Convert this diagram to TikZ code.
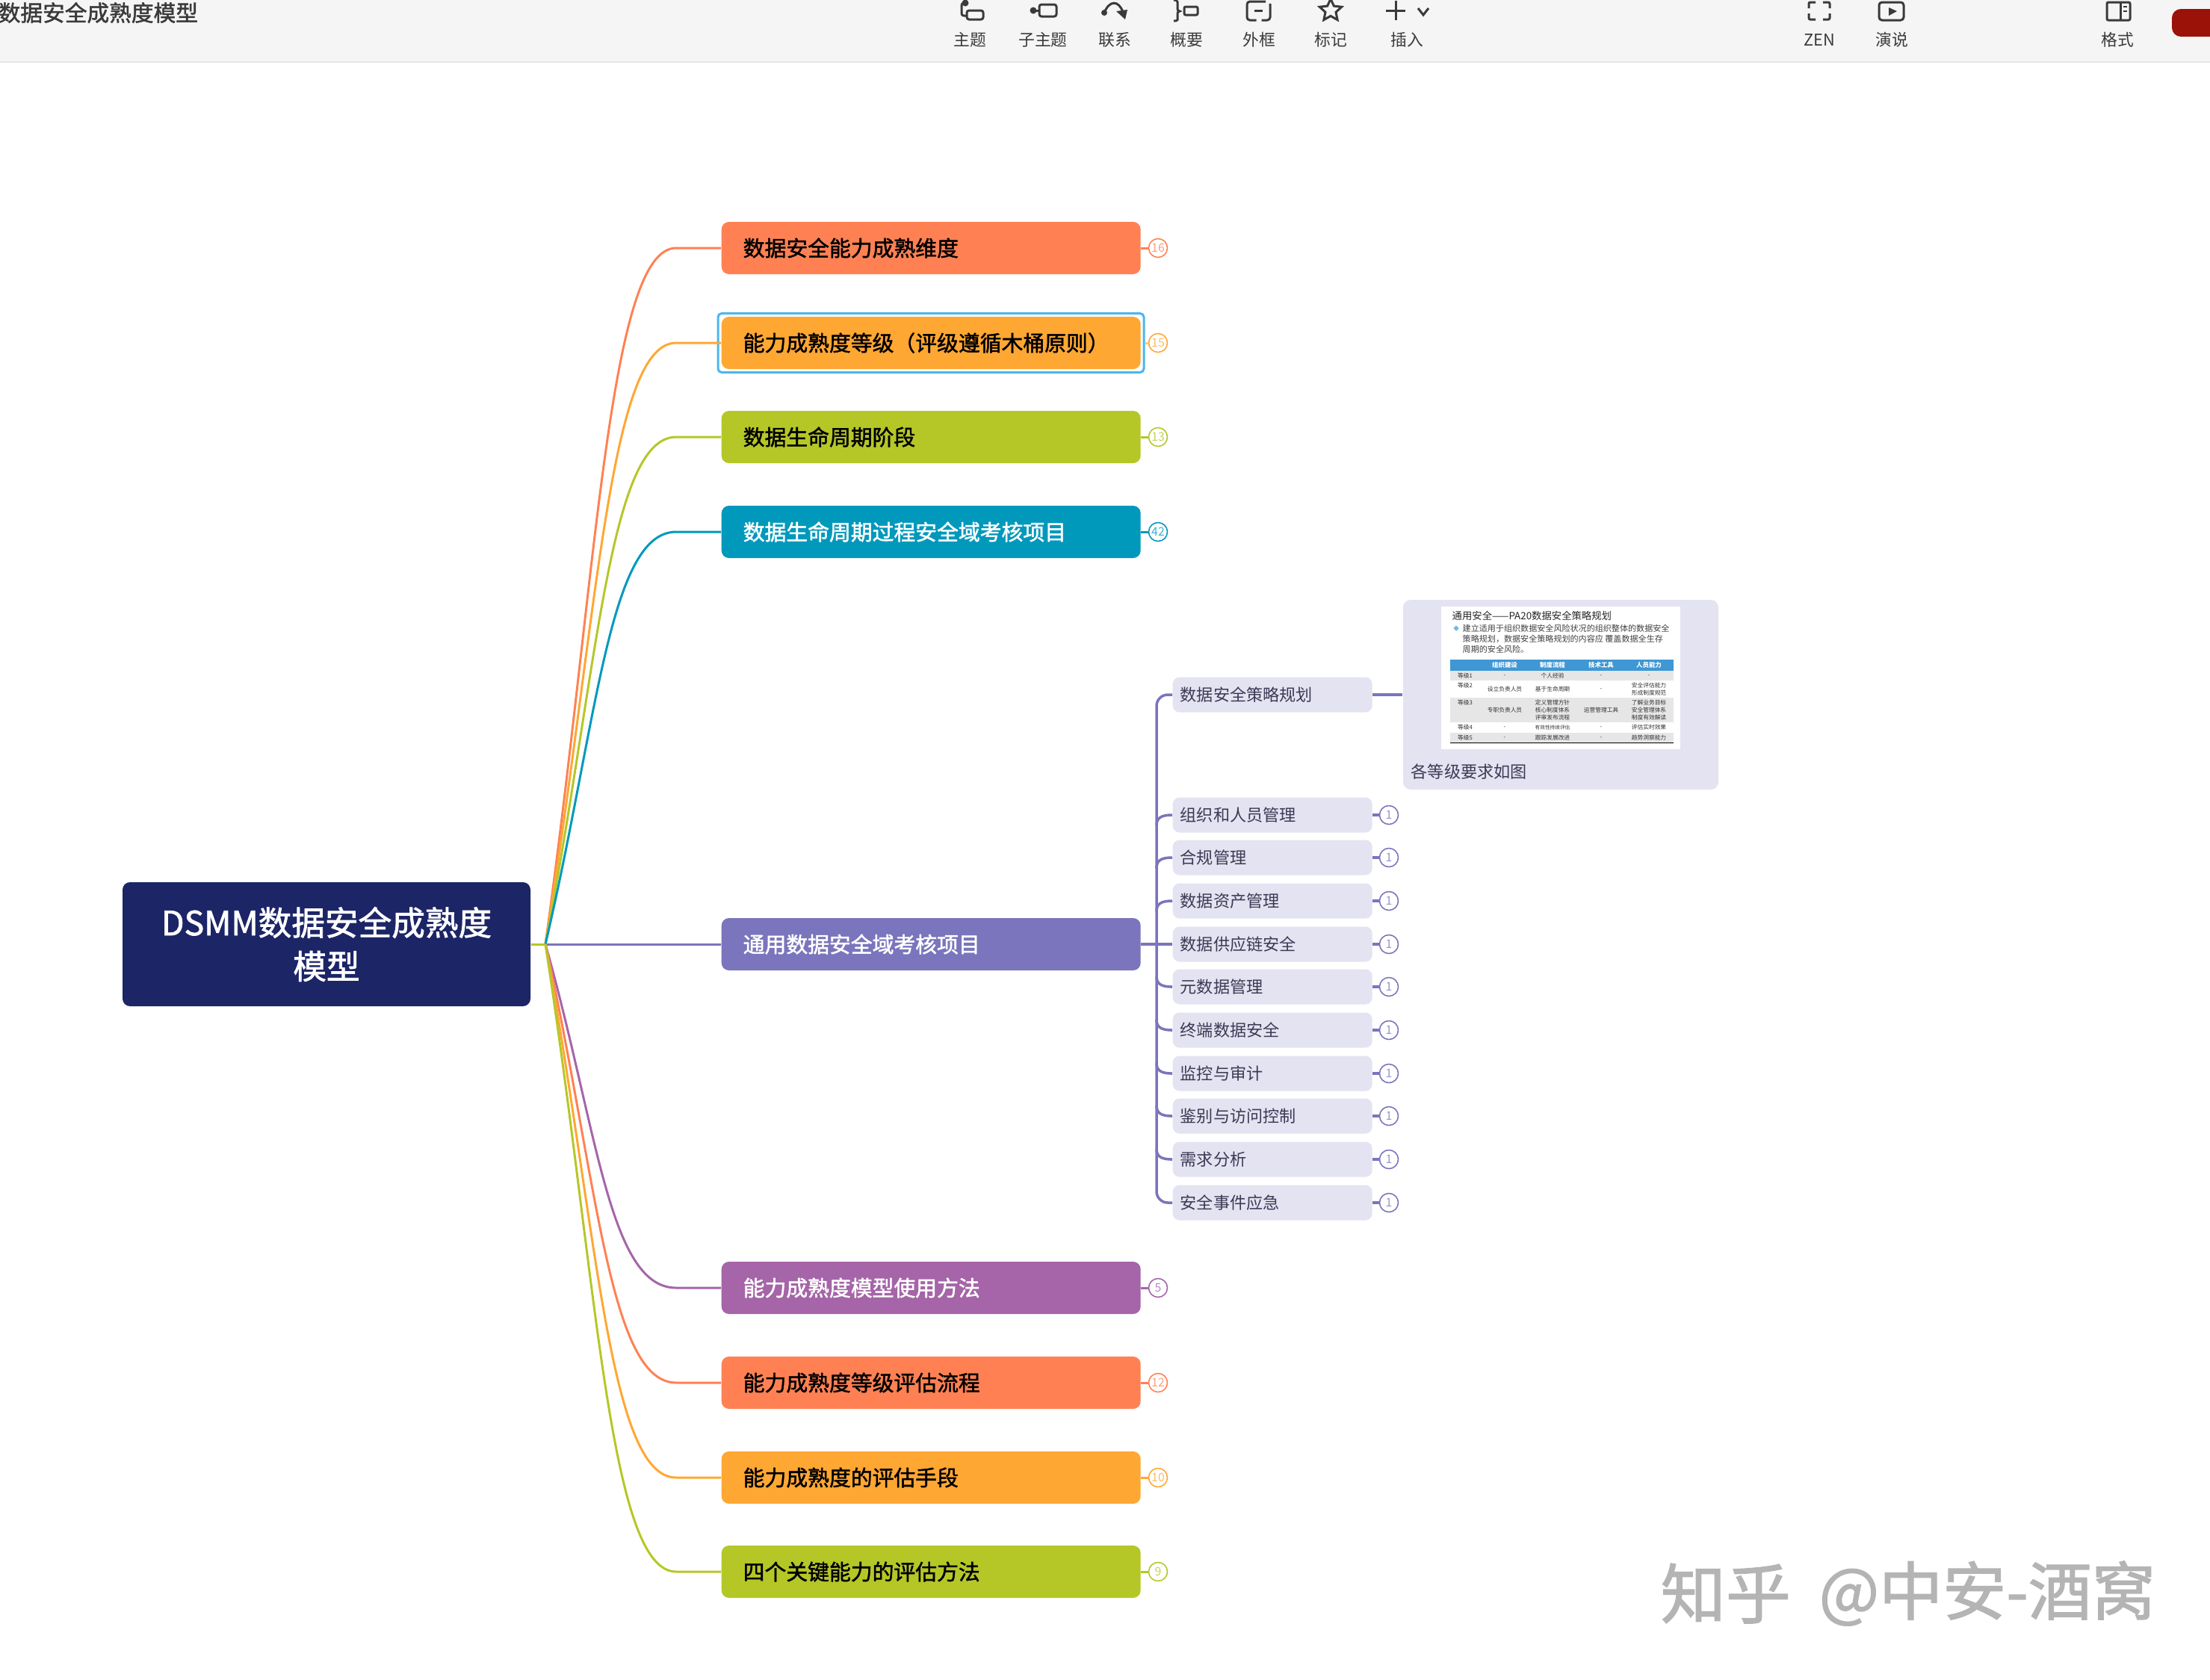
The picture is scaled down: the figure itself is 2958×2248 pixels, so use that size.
\documentclass[tikz,border=0pt]{standalone}
\usepackage{fontspec}
\setmainfont{Noto Sans CJK SC}
\newfontfamily\cjkmid[FakeBold=1.6]{Noto Sans CJK SC}
\usetikzlibrary{shapes.geometric}

\definecolor{rootblue}{HTML}{1C2566}
\definecolor{coral}{HTML}{FF8153}
\definecolor{amber}{HTML}{FFA733}
\definecolor{lime}{HTML}{B5C727}
\definecolor{teal2}{HTML}{0099BC}
\definecolor{slate}{HTML}{7A75BC}
\definecolor{violet2}{HTML}{A565A8}
\definecolor{subfill}{HTML}{E4E3F1}
\definecolor{subtext}{HTML}{3B3A55}
\definecolor{selblue}{HTML}{4DB6EC}
\definecolor{barfill}{HTML}{F5F5F5}
\definecolor{barline}{HTML}{E6E6E6}
\definecolor{icongray}{HTML}{3A3A3A}
\definecolor{tablehead}{HTML}{3F97D3}
\definecolor{tablerow}{HTML}{E6E6E6}
\definecolor{tabletext}{HTML}{333333}
\definecolor{markgray}{HTML}{B4B4B4}
\definecolor{closered}{HTML}{9B1208}

\begin{document}
\begin{tikzpicture}[x=0.1mm,y=-0.1mm]
    \tikzset{
      rootbox/.style = {fill=rootblue, text=white, rounded corners=1mm, inner sep=0, align=center,
                        minimum width=54.6mm, minimum height=16.6mm,
                        font=\cjkmid\fontsize{12.7}{16.6}\selectfont},
      branchbox/.style = {fill=#1, rounded corners=1mm, anchor=west, inner xsep=2.9mm, inner ysep=0,
                        text width=50.3mm, align=left, minimum height=7mm,
                        font=\cjkmid\fontsize{8.2}{10}\selectfont},
      subbox/.style = {fill=subfill, text=subtext, rounded corners=0.9mm, anchor=west, inner xsep=1mm,
                        inner ysep=0, text width=24.7mm, align=left, minimum height=4.7mm,
                        font=\fontsize{6.3}{8}\selectfont},
      countdot/.style = {draw=#1, fill=white, text=#1!75, circle, inner sep=0, minimum size=2.5mm,
                        line width=0.45pt, font=\fontsize{4.5}{5}\selectfont},
      wire/.style = {draw=#1, line width=0.85pt},
      barlabel/.style = {text=icongray, inner sep=0, font=\fontsize{6.2}{8}\selectfont},
      iconline/.style = {draw=icongray, line width=0.85pt},
      cell/.style = {text=tabletext, inner sep=0, align=center, font=\fontsize{2.2}{2.85}\selectfont},
      headcell/.style = {text=white, inner sep=0, font=\bfseries\fontsize{2.4}{3}\selectfont}
    }

    \useasboundingbox (0,0) rectangle (2958,2248);

    % tool bar
    \fill[barfill] (0,0) rectangle (2958,82);
    \fill[barline] (0,82) rectangle (2958,84);
    \node[anchor=west, inner sep=0, text=icongray, font=\cjkmid\fontsize{8.45}{10}\selectfont] (title) at (-3,17) {数据安全成熟度模型};
    \node[barlabel] (l1) at (1298,53) {主题};
    \node[barlabel] (l2) at (1396,53) {子主题};
    \node[barlabel] (l3) at (1492,53) {联系};
    \node[barlabel] (l4) at (1588,53) {概要};
    \node[barlabel] (l5) at (1685,53) {外框};
    \node[barlabel] (l6) at (1781,53) {标记};
    \node[barlabel] (l7) at (1883,53) {插入};
    \node[barlabel] (l8) at (2435,53) {ZEN};
    \node[barlabel] (l9) at (2532,53) {演说};
    \node[barlabel] (l10) at (2834,53) {格式};
    \fill[closered, rounded corners=1.2mm] (2907,12) rectangle (3000,49);

    % tool bar icons
    \fill[icongray] (1292,4) circle (0.45mm);
    \draw[iconline, rounded corners=0.3mm] (1292,4) -- (1287,4) -- (1287,21) -- (1294,21);
    \draw[iconline, rounded corners=0.3mm] (1294,14) rectangle (1316,26);
    \fill[icongray] (1383,14) circle (0.45mm);
    \draw[iconline] (1383,14) -- (1391,14);
    \draw[iconline, rounded corners=0.3mm] (1391,6) rectangle (1414,22);
    \fill[icongray] (1478,17) circle (0.4mm);
    \draw[iconline] (1478,17) .. controls (1485,0) and (1497,0) .. (1503,16);
    \fill[icongray] (1494,15) -- (1509,13) -- (1506,26) -- cycle;
    \draw[iconline] (1571,0) .. controls (1578,0) and (1576,4) .. (1576,10) .. controls (1576,14) and (1577,15) .. (1579,15) .. controls (1577,15) and (1576,16) .. (1576,20) .. controls (1576,26) and (1578,28) .. (1571,28);
    \draw[iconline, rounded corners=0.2mm] (1585,9) rectangle (1603,20);
    \draw[iconline, dashed, dash pattern=on 9pt off 2pt, rounded corners=0.4mm] (1669,2) rectangle (1700,27);
    \draw[iconline] (1679,14) -- (1690,14);
    \node[star, star points=5, star point ratio=2.1, draw=icongray, line width=0.85pt, inner sep=0, minimum size=3.1mm] (fav) at (1781,14) {};
    \draw[iconline] (1868,1) -- (1868,27);
    \draw[iconline] (1855,14) -- (1881,14);
    \draw[iconline] (1898,11) -- (1905,20) -- (1912,11);
    \draw[iconline, rounded corners=0.2mm] (2430,3) -- (2421,3) -- (2421,11);
    \draw[iconline, rounded corners=0.2mm] (2440,3) -- (2449,3) -- (2449,11);
    \draw[iconline, rounded corners=0.2mm] (2421,18) -- (2421,26) -- (2430,26);
    \draw[iconline, rounded corners=0.2mm] (2449,18) -- (2449,26) -- (2440,26);
    \draw[iconline, rounded corners=0.4mm] (2515,3) rectangle (2548,27);
    \fill[icongray] (2528,10) -- (2539,15) -- (2528,21) -- cycle;
    \draw[iconline, rounded corners=0.2mm] (2820,3) rectangle (2851,27);
    \draw[iconline] (2838,3) -- (2838,27);
    \draw[icongray, line width=0.5pt] (2842,9) -- (2847,9);
    \draw[icongray, line width=0.5pt] (2842,15) -- (2847,15);

    % root and main branches
    \node[rootbox, align=center] (root) at (437,1264) {DSMM数据安全成熟度\\模型};
    \coordinate (j) at (730,1264);

    \node[draw=selblue, line width=0.85pt, rounded corners=0.5mm, minimum width=57mm, minimum height=7.9mm, inner sep=0] (sel) at (1246,459) {};

    \node[branchbox=coral] (b1) at (965,332) {数据安全能力成熟维度};
    \node[branchbox=amber] (b2) at (965,459) {能力成熟度等级（评级遵循木桶原则）};
    \node[branchbox=lime] (b3) at (965,585) {数据生命周期阶段};
    \node[branchbox=teal2, text=white] (b4) at (965,712) {数据生命周期过程安全域考核项目};
    \node[branchbox=slate, text=white] (b5) at (965,1264) {通用数据安全域考核项目};
    \node[branchbox=violet2, text=white] (b6) at (965,1724) {能力成熟度模型使用方法};
    \node[branchbox=coral] (b7) at (965,1851) {能力成熟度等级评估流程};
    \node[branchbox=amber] (b8) at (965,1978) {能力成熟度的评估手段};
    \node[branchbox=lime] (b9) at (965,2104) {四个关键能力的评估方法};

    \draw[wire=coral] (j) .. controls (800,760) and (815,332) .. (905,332) -- (b1.west);
    \draw[wire=amber] (j) .. controls (800,828) and (815,459) .. (905,459) -- (b2.west);
    \draw[wire=lime] (j) .. controls (800,897) and (815,585) .. (905,585) -- (b3.west);
    \draw[wire=teal2] (j) .. controls (800,965) and (815,712) .. (905,712) -- (b4.west);
    \draw[wire=slate] (j) -- (b5.west);
    \draw[wire=violet2] (j) .. controls (800,1511) and (815,1724) .. (905,1724) -- (b6.west);
    \draw[wire=coral] (j) .. controls (800,1580) and (815,1851) .. (905,1851) -- (b7.west);
    \draw[wire=amber] (j) .. controls (800,1649) and (815,1978) .. (905,1978) -- (b8.west);
    \draw[wire=lime] (j) .. controls (800,1717) and (815,2104) .. (905,2104) -- (b9.west);
    \draw[wire=lime] (root.east) -- (j);

    % branch counters
    \node[countdot=coral] (n1) at (1550,332) {16};
    \node[countdot=amber] (n2) at (1550,459) {15};
    \node[countdot=lime] (n3) at (1550,585) {13};
    \node[countdot=teal2] (n4) at (1550,712) {42};
    \node[countdot=violet2] (n6) at (1550,1724) {5};
    \node[countdot=coral] (n7) at (1550,1851) {12};
    \node[countdot=amber] (n8) at (1550,1978) {10};
    \node[countdot=lime] (n9) at (1550,2104) {9};
    \draw[wire=coral] (b1.east) -- (n1.west);
    \draw[wire=amber!60] (sel.east) -- (n2.west);
    \draw[wire=lime] (b3.east) -- (n3.west);
    \draw[wire=teal2] (b4.east) -- (n4.west);
    \draw[wire=violet2] (b6.east) -- (n6.west);
    \draw[wire=coral] (b7.east) -- (n7.west);
    \draw[wire=amber] (b8.east) -- (n8.west);
    \draw[wire=lime] (b9.east) -- (n9.west);

    % general domain items
    \node[subbox] (s1) at (1569,930) {数据安全策略规划};
    \node[subbox] (s2) at (1569,1091) {组织和人员管理};
    \node[subbox] (s3) at (1569,1148) {合规管理};
    \node[subbox] (s4) at (1569,1206) {数据资产管理};
    \node[subbox] (s5) at (1569,1264) {数据供应链安全};
    \node[subbox] (s6) at (1569,1321) {元数据管理};
    \node[subbox] (s7) at (1569,1379) {终端数据安全};
    \node[subbox] (s8) at (1569,1437) {监控与审计};
    \node[subbox] (s9) at (1569,1494) {鉴别与访问控制};
    \node[subbox] (s10) at (1569,1552) {需求分析};
    \node[subbox] (s11) at (1569,1610) {安全事件应急};

    \draw[wire=slate, line width=1pt] (b5.east) -- (s5.west);
    \draw[wire=slate, line width=1pt, rounded corners=1.5mm] (s1.west) -- (1548,930) -- (1548,1610) -- (s11.west);
    \draw[wire=slate, line width=1pt] (1548,1105) .. controls (1548,1095) and (1554,1091) .. (s2.west);
    \draw[wire=slate, line width=1pt] (1548,1162) .. controls (1548,1152) and (1554,1148) .. (s3.west);
    \draw[wire=slate, line width=1pt] (1548,1220) .. controls (1548,1210) and (1554,1206) .. (s4.west);
    \draw[wire=slate, line width=1pt] (1548,1307) .. controls (1548,1317) and (1554,1321) .. (s6.west);
    \draw[wire=slate, line width=1pt] (1548,1365) .. controls (1548,1375) and (1554,1379) .. (s7.west);
    \draw[wire=slate, line width=1pt] (1548,1423) .. controls (1548,1433) and (1554,1437) .. (s8.west);
    \draw[wire=slate, line width=1pt] (1548,1480) .. controls (1548,1490) and (1554,1494) .. (s9.west);
    \draw[wire=slate, line width=1pt] (1548,1538) .. controls (1548,1548) and (1554,1552) .. (s10.west);

    \node[countdot=slate] (m2) at (1859,1091) {1};
    \node[countdot=slate] (m3) at (1859,1148) {1};
    \node[countdot=slate] (m4) at (1859,1206) {1};
    \node[countdot=slate] (m5) at (1859,1264) {1};
    \node[countdot=slate] (m6) at (1859,1321) {1};
    \node[countdot=slate] (m7) at (1859,1379) {1};
    \node[countdot=slate] (m8) at (1859,1437) {1};
    \node[countdot=slate] (m9) at (1859,1494) {1};
    \node[countdot=slate] (m10) at (1859,1552) {1};
    \node[countdot=slate] (m11) at (1859,1610) {1};
    \draw[wire=slate, line width=1pt] (s2.east) -- (m2.west);
    \draw[wire=slate, line width=1pt] (s3.east) -- (m3.west);
    \draw[wire=slate, line width=1pt] (s4.east) -- (m4.west);
    \draw[wire=slate, line width=1pt] (s5.east) -- (m5.west);
    \draw[wire=slate, line width=1pt] (s6.east) -- (m6.west);
    \draw[wire=slate, line width=1pt] (s7.east) -- (m7.west);
    \draw[wire=slate, line width=1pt] (s8.east) -- (m8.west);
    \draw[wire=slate, line width=1pt] (s9.east) -- (m9.west);
    \draw[wire=slate, line width=1pt] (s10.east) -- (m10.west);
    \draw[wire=slate, line width=1pt] (s11.east) -- (m11.west);

    % note card with the slide
    \node[fill=subfill, rounded corners=1mm, minimum width=42.2mm, minimum height=25.4mm, inner sep=0] (card) at (2089,930) {};
    \draw[wire=slate, line width=1pt] (s1.east) -- (card.west |- s1.east);
    \node[fill=white, minimum width=32mm, minimum height=19.1mm, inner sep=0] (slide) at (2089,907.5) {};
    \node[anchor=west, inner sep=0, text=subtext, font=\fontsize{6.3}{8}\selectfont] (cap) at (1888,1033) {各等级要求如图};

    \node[anchor=west, inner sep=0, text=black!85, font=\fontsize{3.8}{4}\selectfont] (st) at (1943,824) {通用安全——PA20数据安全策略规划};
    \node[diamond, fill=tablehead!70, inner sep=0, minimum size=0.8mm] (sd) at (1949,841) {};
    \node[anchor=west, inner sep=0, text=black!75, font=\fontsize{3.15}{3.8}\selectfont] (sb1) at (1957,841) {建立适用于组织数据安全风险状况的组织整体的数据安全};
    \node[anchor=west, inner sep=0, text=black!75, font=\fontsize{3.15}{3.8}\selectfont] (sb2) at (1957,855) {策略规划，数据安全策略规划的内容应 覆盖数据全生存};
    \node[anchor=west, inner sep=0, text=black!75, font=\fontsize{3.15}{3.8}\selectfont] (sb3) at (1957,869) {周期的安全风险。};

    % slide table
    \fill[tablehead] (1941,883) rectangle (2240,898);
    \fill[tablerow] (1941,898) rectangle (2240,911);
    \fill[tablerow] (1941,934) rectangle (2240,967);
    \fill[tablerow] (1941,981) rectangle (2240,994);
    \draw[black, line width=0.2pt] (1941,994) -- (2240,994);

    \node[headcell] (h2) at (2014,890) {组织建设};
    \node[headcell] (h3) at (2078,890) {制度流程};
    \node[headcell] (h4) at (2143,890) {技术工具};
    \node[headcell] (h5) at (2207,890) {人员能力};

    \node[cell] (c11) at (1961,905) {等级1};
    \node[cell] (c12) at (2014,905) {-};
    \node[cell] (c13) at (2078,905) {个人经验};
    \node[cell] (c14) at (2143,905) {-};
    \node[cell] (c15) at (2207,905) {-};

    \node[cell] (c21) at (1961,918) {等级2};
    \node[cell] (c22) at (2014,923) {设立负责人员};
    \node[cell] (c23) at (2078,923) {基于生命周期};
    \node[cell] (c24) at (2143,923) {-};
    \node[cell] (c25) at (2207,923) {安全评估能力\\形成制度规范};

    \node[cell] (c31) at (1961,941) {等级3};
    \node[cell] (c32) at (2014,951) {专职负责人员};
    \node[cell] (c33) at (2078,951) {定义管理方针\\核心制度体系\\评审发布流程};
    \node[cell] (c34) at (2143,951) {运营管理工具};
    \node[cell] (c35) at (2207,951) {了解业务目标\\安全管理体系\\制度有效解读};

    \node[cell] (c41) at (1961,974) {等级4};
    \node[cell] (c42) at (2014,974) {-};
    \node[cell, font=\fontsize{1.9}{2.85}\selectfont] (c43) at (2078,974) {有效性持续评估};
    \node[cell] (c44) at (2143,974) {-};
    \node[cell] (c45) at (2207,974) {评估实时效果};

    \node[cell] (c51) at (1961,988) {等级5};
    \node[cell] (c52) at (2014,988) {-};
    \node[cell] (c53) at (2078,988) {跟踪发展改进};
    \node[cell] (c54) at (2143,988) {-};
    \node[cell] (c55) at (2207,988) {趋势洞察能力};

    % watermark
    \node[anchor=west, inner sep=0, text=markgray, font=\cjkmid\fontsize{24.8}{28}\selectfont] (w1) at (2222,2133) {知乎};
    \node[anchor=west, inner sep=0, text=markgray, font=\cjkmid\fontsize{24.2}{28}\selectfont] (w2) at (2434,2133) {@中安-酒窝};
\end{tikzpicture}
\end{document}
